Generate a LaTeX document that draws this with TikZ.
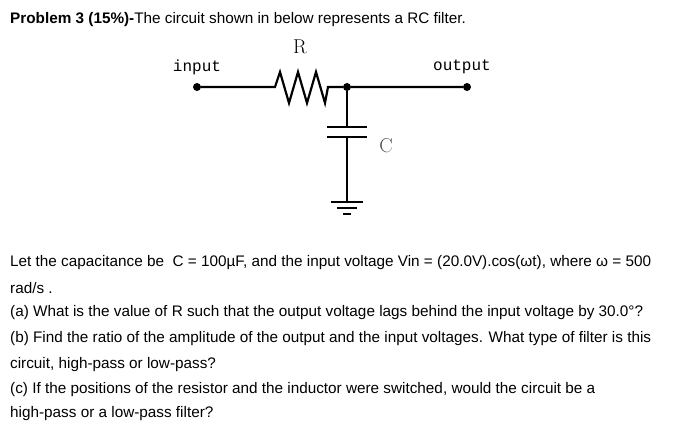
\documentclass[tikz,border=0pt]{standalone}
\usepackage{fontspec}
\setmainfont{Liberation Sans}
\newfontfamily\cour{Liberation Mono}
\newfontfamily\lmr{Latin Modern Roman}
\begin{document}
\begin{tikzpicture}[x=1pt,y=-1pt,
  txt/.style={anchor=west,inner sep=0pt,font=\fontsize{15.3}{17}\selectfont},
  lbl/.style={inner sep=0pt,font=\cour\fontsize{16}{16}\selectfont},
  wire/.style={line width=2.2pt},
  dot/.style={circle,fill,inner sep=0pt,minimum size=8pt}]
\useasboundingbox (0,0) rectangle (673,443);
\node[txt] (t0) at (10,20) {\textbf{Problem 3 (15\%)-}The circuit shown in below represents a RC filter.};
\node[dot] (in) at (197,87) {};
\node[dot] (j) at (347,87) {};
\node[dot] (out) at (467,87) {};
\coordinate (r1) at (275,87);
\coordinate (r2) at (328,87);
\coordinate (c1) at (347,127);
\coordinate (c2) at (347,137);
\coordinate (g) at (347,202);
\draw[wire,line join=miter] (in) -- (r1) -- ++(5,-15) -- ++(9,31) -- ++(9,-31) -- ++(9,31) -- ++(9,-31) -- ++(9,31) -- (r2) -- (j) -- (out);
\draw[wire] (j) -- (c1);
\draw[wire] (327,127) -- (367,127);
\draw[wire] (327,137) -- (367,137);
\draw[wire] (c2) -- (g);
\draw[wire] (331,202) -- (363,202);
\draw[wire] (337,208) -- (357,208);
\draw[wire] (343,214) -- (351,214);
\node[lbl] (li) at (197,67) {input};
\node[lbl] (lo) at (462,67) {output};
\node[inner sep=0pt,font=\lmr\fontsize{20}{20}\selectfont] (lr) at (300,47) {R};
\node[inner sep=0pt,font=\lmr\fontsize{20}{20}\selectfont,text=black!70] (lc) at (386,146) {C};
\node[txt] (t1) at (10,263) {Let the capacitance be\ \ C = 100µF, and the input voltage Vin = (20.0V).cos(ωt), where ω = 500};
\node[txt] (t2) at (10,288) {rad/s .};
\node[txt] (t3) at (10,313) {(a) What is the value of R such that the output voltage lags behind the input voltage by 30.0°?};
\node[txt] (t4) at (10,339) {(b) Find the ratio of the amplitude of the output and the input voltages. What type of filter is this};
\node[txt] (t5) at (10,365) {circuit, high-pass or low-pass?};
\node[txt] (t6) at (10,390) {(c) If the positions of the resistor and the inductor were switched, would the circuit be a};
\node[txt] (t7) at (10,414) {high-pass or a low-pass filter?};
\end{tikzpicture}
\end{document}
